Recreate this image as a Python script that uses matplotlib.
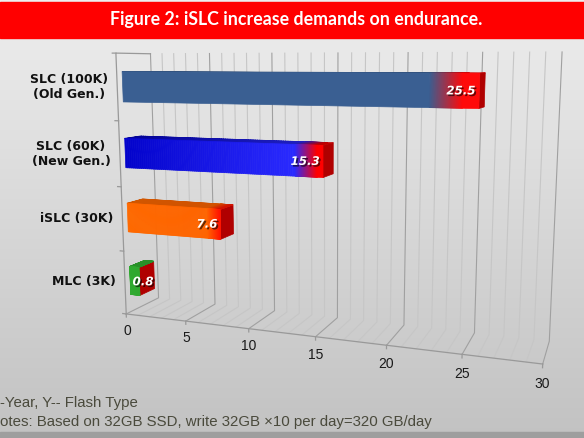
"""
Figure 2: years of endurance per flash type (3D horizontal bars)
"""
import numpy as np
import matplotlib
matplotlib.use("Agg")
import matplotlib.pyplot as plt
from matplotlib import patheffects
from matplotlib.colors import to_rgb
from matplotlib.patches import Rectangle
from mpl_toolkits.mplot3d import proj3d
from mpl_toolkits.mplot3d.art3d import Poly3DCollection

# data, bottom to top
categories = ["MLC (3K)", "iSLC (30K)", "SLC (60K)\n(New Gen.)", "SLC (100K)\n(Old Gen.)"]
years = [0.8, 7.6, 15.3, 25.5]
value_labels = ["0.8", "7.6", "15.3", "25.5"]
x_ticks = [0, 5, 10, 15, 20, 25, 30]
title = "Figure 2: iSLC increase demands on endurance."
notes = ["-Year, Y-- Flash Type",
         "otes: Based on 32GB SSD, write 32GB \u00d710 per day=320 GB/day"]

# front face colour stops per bar: (distance from bar end, colour)
front_stops = [
    [(9.0, "#36b936"), (0.0, "#2fa82f")],
    [(9.0, "#ff6a00"), (1.0, "#ff6400"), (0.0, "#ff1500")],
    [(16.0, "#0000c8"), (2.0, "#2a2aff"), (0.4, "#ff0000"), (0.0, "#ff0000")],
    [(26.0, "#3a5f92"), (3.1, "#3a5f92"), (1.0, "#ff0a0a"), (0.0, "#ff0a0a")],
]
top_dark = [0.85, 0.82, 0.75, 0.8]
end_color = "#b00000"

XMAX, ZMAX = 30, 4
Y0, Y1 = 0.15, 0.6      # bar depth inside floor
BAR_H = 0.45


def stop_color(stops, v, xs):
    d = v - np.asarray(xs, dtype=float)
    pos = np.array([s[0] for s in stops])[::-1]
    cols = np.array([to_rgb(s[1]) for s in stops])[::-1]
    return np.stack([np.interp(d, pos, cols[:, k]) for k in range(3)], axis=-1)


def bar_edges(stops, v):
    br = sorted(set([0.0, v] + [v - s[0] for s in stops if 0 < v - s[0] < v]))
    out = [br[0]]
    for a, b in zip(br[:-1], br[1:]):
        ca, cb = stop_color(stops, v, [a, b])
        n = 1 if np.allclose(ca, cb) else 80
        out.extend(np.linspace(a, b, n + 1)[1:])
    return np.array(out)


def label3d(ax, x, y, z, s, **kw):
    """Put a flat text at the projected position of a 3D point."""
    px, py, _ = proj3d.proj_transform(x, y, z, ax.get_proj())
    return ax.text2D(px, py, s, transform=ax.transData, **kw)


fig = plt.figure(figsize=(5.84, 4.38), dpi=100)

# background gradient + title bar
grad = np.linspace(0, 1, 438)[:, None]
c_top, c_bot = np.array(to_rgb("#eeeeee")), np.array(to_rgb("#c2c2c2"))
img = c_top + (c_bot - c_top) * grad[:, :, None]
fig.figimage(np.repeat(img, 584, axis=1), xo=0, yo=0, origin="upper", zorder=-2)
fig.patches.append(Rectangle((0, 1 - 38 / 438), 1, 36 / 438, transform=fig.transFigure,
                             color="#ff0000", zorder=5))
fig.patches.append(Rectangle((0, 0), 1, 6 / 438, transform=fig.transFigure,
                             color="#9e9e9e", zorder=5))
fig.text(0.508, 1 - 19 / 438, title, color="white", fontsize=12.8, fontweight="bold",
         family="Lato", ha="center", va="center", zorder=6)

for i, line in enumerate(notes):
    fig.text(0.0, 1 - (403 + 19 * i) / 438, line, color="#4a4a3c", fontsize=10.8,
             family="Liberation Sans", ha="left", va="center")

side = 506.6
ax = fig.add_axes([0.548 - side / 584 / 2, 0.543 - side / 438 / 2, side / 584, side / 438],
                  projection="3d")
ax.set_facecolor("none")
ax.computed_zorder = False
ax.set_xlim(0, XMAX)
ax.set_ylim(0, 1)
ax.set_zlim(0, ZMAX)
ax.set_xticks([])
ax.set_yticks([])
ax.set_zticks([])
ax.set_box_aspect((1, 0.15, 0.635))
ax.view_init(elev=9, azim=-70)
ax.set_proj_type("persp", focal_length=0.3)
ax.set_axis_off()

# walls and grid
for x in range(XMAX + 1):
    col = "#a0a0a0" if x % 5 == 0 else "#c6c6c6"
    ax.plot([x, x, x], [0, 1, 1], [0, 0, ZMAX], color=col, lw=0.8, zorder=1)
ax.plot([0, XMAX], [0, 0], [0, 0], color="#999999", lw=0.9, zorder=1)
ax.plot([0, 0, 0], [0, 0, 1], [0, ZMAX, ZMAX], color="#999999", lw=0.9, zorder=1)
for z in range(ZMAX + 1):
    ax.plot([0, -0.3], [0, 0], [z, z], color="#999999", lw=0.9, zorder=1)
for x in x_ticks:
    ax.plot([x, x], [0, 0], [0, -0.05], color="#999999", lw=0.9, zorder=1)
    label3d(ax, x, 0, -0.27, str(x), fontsize=10, family="Liberation Sans",
            color="#1a1a1a", ha="center", va="center", zorder=3)

# bars
faces, fcols = [], []
for i, v in enumerate(years):
    z0 = i + 0.5 - BAR_H / 2
    z1 = z0 + BAR_H
    edges = bar_edges(front_stops[i], v)
    mids = (edges[:-1] + edges[1:]) / 2
    cf = stop_color(front_stops[i], v, mids)
    for (xa, xb, c) in zip(edges[:-1], edges[1:], cf):
        faces.append([(xa, Y0, z1), (xb, Y0, z1), (xb, Y1, z1), (xa, Y1, z1)])
        fcols.append(tuple(c * top_dark[i]))
        faces.append([(xa, Y0, z0), (xb, Y0, z0), (xb, Y0, z1), (xa, Y0, z1)])
        fcols.append(tuple(c))
    faces.append([(v, Y0, z0), (v, Y1, z0), (v, Y1, z1), (v, Y0, z1)])
    fcols.append(to_rgb(end_color))
bars = Poly3DCollection(faces, facecolors=fcols, edgecolors=fcols, linewidths=0.5,
                        zsort="average", zorder=2)
ax.add_collection3d(bars)

shadow = [patheffects.withSimplePatchShadow(offset=(1.2, -1.2), shadow_rgbFace="black",
                                            alpha=0.6)]
for i, (v, lab) in enumerate(zip(years, value_labels)):
    zc = i + 0.5
    if v > 2:
        label3d(ax, v - 0.25, Y0, zc, lab, ha="right", va="center", color="white",
                fontsize=8.5, fontweight="bold", style="italic", path_effects=shadow, zorder=4)
    else:
        label3d(ax, v + 0.3, Y0, zc, lab, ha="center", va="center", color="white",
                fontsize=8.5, fontweight="bold", style="italic", path_effects=shadow, zorder=4)
    label3d(ax, -0.8, 0, zc, categories[i], ha="right", va="center", fontsize=9,
            fontweight="bold", color="#111111", multialignment="center", zorder=4)

fig.savefig("out.png", dpi=100)
